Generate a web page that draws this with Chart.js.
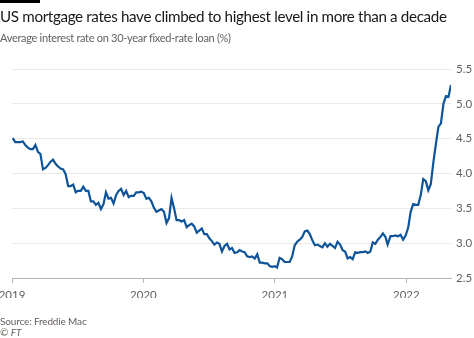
<!DOCTYPE html>
<html>
<head>
<meta charset="utf-8">
<script src="https://cdn.jsdelivr.net/npm/chart.js@4"></script>
<style>
  html, body { margin: 0; padding: 0; background: #fff; }
  #wrap { position: relative; width: 474px; height: 338px; overflow: hidden; font-family: Lato, sans-serif; }
  #bar { position: absolute; left: 0; top: 0; width: 40px; height: 3px; background: #000; }
  #title { position: absolute; left: 0; top: 7px; font-size: 15.2px; letter-spacing: -0.35px; color: #1a1817; white-space: nowrap; }
  #sub { position: absolute; left: 0; top: 31px; font-size: 11px; letter-spacing: -0.3px; color: #66605c; white-space: nowrap; }
  #src { position: absolute; left: 0; top: 315px; font-size: 10px; letter-spacing: -0.15px; color: #66605c; white-space: nowrap; }
  #ft { position: absolute; left: 0; top: 326px; font-size: 10px; color: #66605c; font-style: italic; }
  canvas { position: absolute; left: 0; top: 0; }
</style>
</head>
<body>
<div id="wrap">
  <canvas id="chart" width="474" height="338"></canvas>
  <div id="bar"></div>
  <div id="title">US mortgage rates have climbed to highest level in more than a decade</div>
  <div id="sub">Average interest rate on 30-year fixed-rate loan (%)</div>
  <div id="src">Source: Freddie Mac</div>
  <div id="ft">© FT</div>
</div>
<script>
// Freddie Mac weekly 30-year fixed rate, one value per week
const weeks = [
  '2019-01-03','2019-01-10','2019-01-17','2019-01-24','2019-01-31','2019-02-07','2019-02-14','2019-02-21','2019-02-28',
  '2019-03-07','2019-03-14','2019-03-21','2019-03-28','2019-04-04','2019-04-11','2019-04-18','2019-04-25','2019-05-02',
  '2019-05-09','2019-05-16','2019-05-23','2019-05-30','2019-06-06','2019-06-13','2019-06-20','2019-06-27','2019-07-03',
  '2019-07-11','2019-07-18','2019-07-25','2019-08-01','2019-08-08','2019-08-15','2019-08-22','2019-08-29','2019-09-05',
  '2019-09-12','2019-09-19','2019-09-26','2019-10-03','2019-10-10','2019-10-17','2019-10-24','2019-10-31','2019-11-07',
  '2019-11-14','2019-11-21','2019-11-27','2019-12-05','2019-12-12','2019-12-19','2019-12-26',
  '2020-01-02','2020-01-09','2020-01-16','2020-01-23','2020-01-30','2020-02-06','2020-02-13','2020-02-20','2020-02-27',
  '2020-03-05','2020-03-12','2020-03-19','2020-03-26','2020-04-02','2020-04-09','2020-04-16','2020-04-23','2020-04-30',
  '2020-05-07','2020-05-14','2020-05-21','2020-05-28','2020-06-04','2020-06-11','2020-06-18','2020-06-25','2020-07-02',
  '2020-07-09','2020-07-16','2020-07-23','2020-07-30','2020-08-06','2020-08-13','2020-08-20','2020-08-27','2020-09-03',
  '2020-09-10','2020-09-17','2020-09-24','2020-10-01','2020-10-08','2020-10-15','2020-10-22','2020-10-29','2020-11-05',
  '2020-11-12','2020-11-19','2020-11-25','2020-12-03','2020-12-10','2020-12-17','2020-12-24','2020-12-31',
  '2021-01-07','2021-01-14','2021-01-21','2021-01-28','2021-02-04','2021-02-11','2021-02-18','2021-02-25','2021-03-04',
  '2021-03-11','2021-03-18','2021-03-25','2021-04-01','2021-04-08','2021-04-15','2021-04-22','2021-04-29','2021-05-06',
  '2021-05-13','2021-05-20','2021-05-27','2021-06-03','2021-06-10','2021-06-17','2021-06-24','2021-07-01','2021-07-08',
  '2021-07-15','2021-07-22','2021-07-29','2021-08-05','2021-08-12','2021-08-19','2021-08-26','2021-09-02','2021-09-09',
  '2021-09-16','2021-09-23','2021-09-30','2021-10-07','2021-10-14','2021-10-21','2021-10-28','2021-11-04','2021-11-10',
  '2021-11-18','2021-11-24','2021-12-02','2021-12-09','2021-12-16','2021-12-23','2021-12-30',
  '2022-01-06','2022-01-13','2022-01-20','2022-01-27','2022-02-03','2022-02-10','2022-02-17','2022-02-24','2022-03-03',
  '2022-03-10','2022-03-17','2022-03-24','2022-03-31','2022-04-07','2022-04-14','2022-04-21','2022-04-28','2022-05-05'
];
const rates = [
  4.51,4.45,4.45,4.45,4.46,4.41,4.37,4.35,4.35,
  4.41,4.31,4.28,4.06,4.08,4.12,4.17,4.20,4.14,
  4.10,4.07,4.06,3.99,3.82,3.82,3.84,3.73,3.75,
  3.75,3.81,3.75,3.75,3.60,3.60,3.55,3.58,3.49,
  3.56,3.73,3.64,3.65,3.57,3.69,3.75,3.78,3.69,
  3.75,3.66,3.68,3.68,3.73,3.73,3.74,
  3.72,3.64,3.65,3.60,3.51,3.45,3.47,3.49,3.45,
  3.29,3.36,3.65,3.50,3.33,3.33,3.31,3.33,3.23,
  3.26,3.28,3.24,3.15,3.18,3.21,3.13,3.13,3.07,
  3.03,2.98,3.01,2.99,2.88,2.96,2.99,2.91,2.93,
  2.86,2.87,2.90,2.88,2.87,2.81,2.80,2.81,2.78,
  2.84,2.72,2.72,2.71,2.71,2.67,2.66,2.67,
  2.65,2.79,2.77,2.73,2.73,2.73,2.81,2.97,3.02,
  3.05,3.09,3.17,3.18,3.13,3.04,2.97,2.98,2.96,
  2.94,3.00,2.95,2.99,2.96,2.93,3.02,2.98,2.90,
  2.88,2.78,2.80,2.77,2.87,2.86,2.87,2.87,2.88,
  2.86,2.88,3.01,2.99,3.05,3.09,3.14,3.09,2.98,
  3.10,3.10,3.11,3.10,3.12,3.05,3.11,
  3.22,3.45,3.56,3.55,3.55,3.69,3.92,3.89,3.76,
  3.85,4.16,4.42,4.67,4.72,5.00,5.11,5.10,5.27
];
const yearTicks = [2019, 2020, 2021, 2022];
const rateTicks = [2.5, 3.0, 3.5, 4.0, 4.5, 5.0, 5.5];

// week date -> fractional year for the linear x scale
function toYear(s) {
  const [y, m, d] = s.split('-').map(Number);
  const start = Date.UTC(y, 0, 1);
  return y + (Date.UTC(y, m - 1, d) - start) / (365 * 86400000);
}
const points = weeks.map((w, i) => ({ x: toYear(w), y: rates[i] }));

const grey = '#66605c';
new Chart(document.getElementById('chart'), {
  type: 'line',
  data: {
    datasets: [{
      data: points,
      borderColor: '#0f5499',
      borderWidth: 2.2,
      pointRadius: 0,
      tension: 0,
      fill: false
    }]
  },
  options: {
    responsive: false,
    animation: false,
    layout: { padding: { left: 12, right: 0, top: 69, bottom: 40 } },
    plugins: { legend: { display: false }, tooltip: { enabled: false } },
    scales: {
      x: {
        type: 'linear',
        min: 2019,
        max: toYear(weeks[weeks.length - 1]),
        afterBuildTicks: s => { s.ticks = yearTicks.map(v => ({ value: v })); },
        afterFit: s => { s.height = 20; s.paddingLeft = 0; s.paddingRight = 0; },
        grid: { drawOnChartArea: false, drawTicks: true, tickLength: 5, color: '#b8b3ae' },
        border: { display: true, color: '#b8b3ae' },
        ticks: {
          color: grey, padding: 5, maxRotation: 0,
          font: { family: 'Lato', size: 11.5 },
          callback: v => String(v)
        }
      },
      y: {
        position: 'right',
        min: 2.5,
        max: 5.5,
        afterBuildTicks: s => { s.ticks = rateTicks.map(v => ({ value: v })); },
        afterFit: s => { s.width = 23; s.paddingTop = 0; s.paddingBottom = 0; },
        grid: { color: '#ebe8e6', drawTicks: false },
        border: { display: false },
        ticks: {
          color: grey, padding: 5,
          font: { family: 'Lato', size: 11.5 },
          callback: v => v.toFixed(1)
        }
      }
    }
  }
});
</script>
</body>
</html>
